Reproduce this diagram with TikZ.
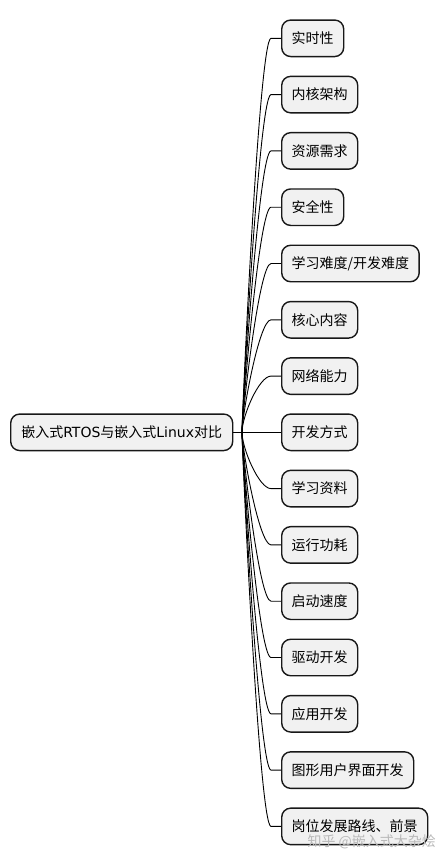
\documentclass[tikz,border=0pt]{standalone}
\usepackage{fontspec}
\setmainfont{Noto Sans CJK SC}
\newfontfamily\lat{DejaVu Sans}
\definecolor{boxfill}{HTML}{F1F1F1}
\definecolor{boxline}{HTML}{181818}
\begin{document}
\begin{tikzpicture}[x=1pt,y=-1pt,
  mmbox/.style={draw=boxline, fill=boxfill, line width=1.4pt, rounded corners=9pt,
    minimum height=36.5pt, inner xsep=10pt, inner ysep=0pt,
    font=\fontsize{14}{16}\selectfont, anchor=west},
  conn/.style={draw=black, line width=0.9pt},
  wmark/.style={text=gray!55, font=\fontsize{14}{16}\selectfont, anchor=west}]
\useasboundingbox (0,0) rectangle (438,865);
\node[mmbox, minimum width=222pt] (root) at (10,432.3) {嵌入式{\lat RTOS}与嵌入式{\lat Linux}对比};
\coordinate (J) at (242,432.3);
\node[mmbox] (c0) at (281,38.3) {实时性};
\node[mmbox] (c1) at (281,94.6) {内核架构};
\node[mmbox] (c2) at (281,150.9) {资源需求};
\node[mmbox] (c3) at (281,207.2) {安全性};
\node[mmbox] (c4) at (281,263.5) {学习难度/开发难度};
\node[mmbox] (c5) at (281,319.8) {核心内容};
\node[mmbox] (c6) at (281,376.1) {网络能力};
\node[mmbox] (c7) at (281,432.3) {开发方式};
\node[mmbox] (c8) at (281,488.6) {学习资料};
\node[mmbox] (c9) at (281,544.9) {运行功耗};
\node[mmbox] (c10) at (281,601.2) {启动速度};
\node[mmbox] (c11) at (281,657.5) {驱动开发};
\node[mmbox] (c12) at (281,713.8) {应用开发};
\node[mmbox] (c13) at (281,770.1) {图形用户界面开发};
\node[mmbox] (c14) at (281,826.4) {岗位发展路线、前景};
\draw[conn] (root.east) -- (J);
\foreach \i in {0,...,14}{
  \pgfmathsetmacro{\s}{(\i<7) ? -16 : ((\i>7) ? 16 : 0)}
  \coordinate (e\i) at ([xshift=-10pt]c\i.west);
  \draw[conn] (J) .. controls +(0,\s) and +(-12,0) .. (e\i) -- (c\i.west);
}
\node[wmark] (wm) at (304,842) {知乎 @嵌入式大杂烩};
\end{tikzpicture}
\end{document}
